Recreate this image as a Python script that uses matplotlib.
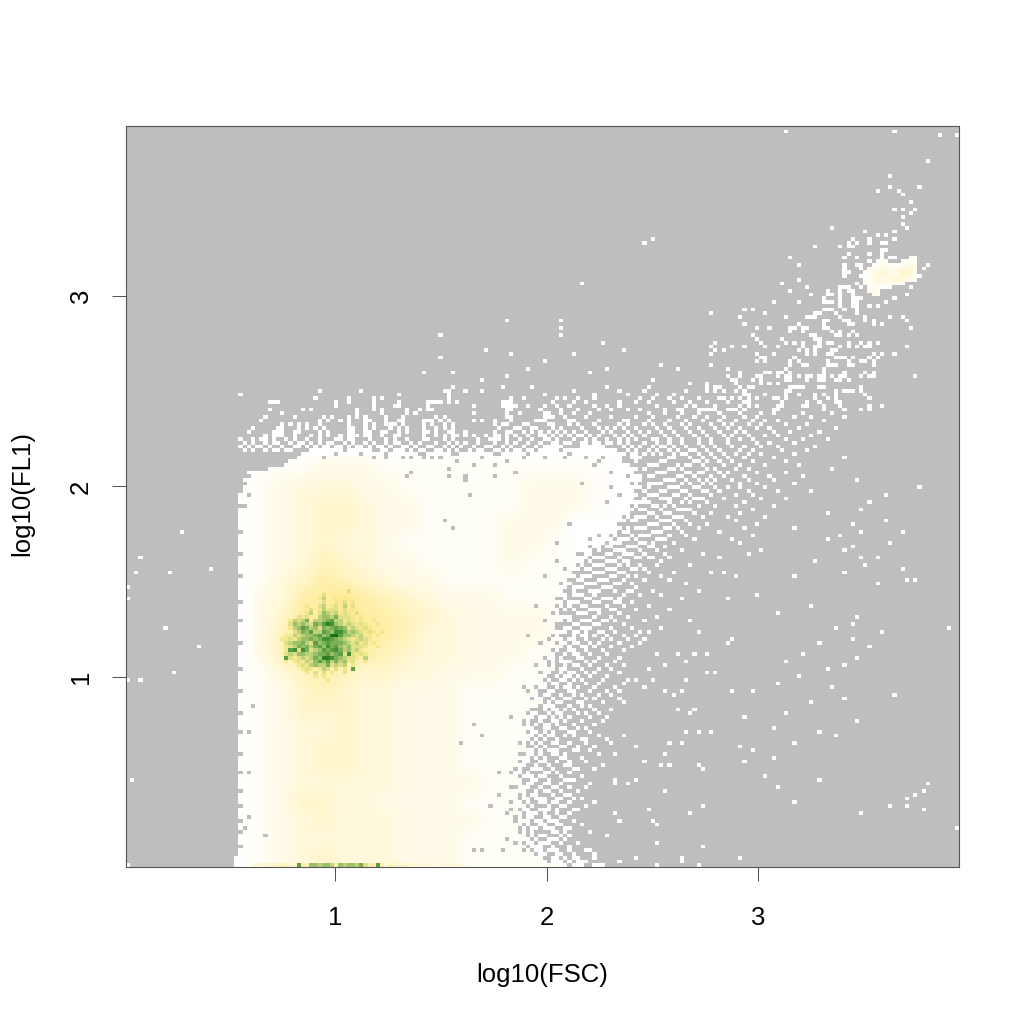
import numpy as np
import matplotlib
matplotlib.use("Agg")
import matplotlib.pyplot as plt
from matplotlib.colors import LinearSegmentedColormap, ListedColormap
from matplotlib.path import Path
from matplotlib.patches import PathPatch

plt.rcParams['font.family'] = ['Liberation Sans', 'DejaVu Sans']

x_label = "log10(FSC)"
y_label = "log10(FL1)"
x_ticks = [1, 2, 3]
y_ticks = [1, 2, 3]
x_range = (0.012, 3.95)
y_range = (0.003, 3.892)
n_bins = 200

# Broad density, 5-bin blocks, bottom row first; first block starts at bin 25.
density_blocks = [
 "0123433322211111000000", "0123333322211111000000", "0123433322221111000000",
 "0124433222211111000000", "0123333322221111000000", "0123443322211111000000",
 "0123443322211111000000", "0123343322211111000000", "0124443322211111000000",
 "0124543322211111000000", "0135654433222111000000", "0257676543322211000000",
 "0257787653322221000000", "0247787654322221000000", "0236786543222111000000",
 "0134654322111111000000", "0123543221111211000000", "0123433211111221000000",
 "0123443221111222000000", "0123443221111122210000", "0123332211111122210000",
 "0111222111111111110000", "0000111000000000000000", "0000000000000000000000",
]

solid_left = [26,26,26,27,27,28,27,27,27,28,27,27,28,27,27,27,28,27,27,27,
 28,27,27,27,27,28,27,27,27,27,28,27,27,27,27,27,28,27,27,27,
 27,28,27,27,27,27,27,28,27,27,27,27,27,28,27,27,27,27,27,27,
 28,27,27,27,27,27,28,27,27,27,27,28,27,27,27,27,27,27,28,27,
 27,27,27,27,28,27,27,27,27,27,28,27,27,27,27,27,27,28,27,27,
 27,28,28,29,28,30,29,34,38,39,41]
solid_right = [106,101,100,98,97,96,95,97,96,94,96,95,97,93,95,94,96,95,97,94,
 96,93,95,96,94,92,95,96,94,97,95,98,96,94,97,98,96,99,97,95,
 98,96,97,99,100,97,99,100,98,101,100,102,99,103,101,103,100,104,102,105,
 103,105,102,106,104,103,105,104,102,104,103,105,104,106,105,106,107,106,108,107,
 109,108,110,111,109,112,114,115,117,116,118,119,118,120,121,120,122,121,123,122,
 123,122,124,123,124,124,122,123,121,120,119]

white_cells = {
0:[0,107,108,109,112,113,114,127,137],1:[102,103,104,106,108,109,110,118,133],2:[102,103,105,107,108,112,122,133,147],
3:[99,100,103,104,107,112],4:[98,99,101,102,103,106,110,111],5:[97,98,99,102,106,138],6:[96,97,99,100,101,104,108,127],
7:[98,101,102,103,105],8:[97,98,99,100,104,106,115],9:[95,97,98,102,103,105,111],10:[97,98,100,101,102,105,106,199],
11:[96,99,100,103,104,109,127],12:[98,99,101,102,103,107,118,126],13:[94,96,97,100,101,104,105],
14:[96,97,98,100,103,106,117,135,176],15:[95,96,99,100,101,103,107,108,125,191],16:[97,98,101,104,105,110,138,183,187],
17:[96,99,100,102,103,106,112,160],18:[98,99,100,103,104,107,109,187],19:[95,97,98,102,105,106,189],
20:[97,98,100,101,104,108,129,191],21:[94,95,96,99,102,103,106,110,156],22:[96,97,100,101,104,111,117,120,192],
23:[97,98,101,105,106,107,117,122,1,166],24:[95,96,97,99,100,104,109,153],25:[93,94,96,100,101,103,106],
26:[97,98,99,102,107,108,112,138],27:[95,97,98,101,105,106,114,128,130,137],28:[95,96,99,100,103,106,110,124,148],
29:[98,99,100,104,105,109,155],30:[96,97,99,102,103,105,113,117,129],31:[99,101,102,103,107,108,111,150],
32:[97,98,100,104,105,108,112,122,147],33:[95,97,99,102,103,106,110,116,130,133,160],34:[98,99,100,103,109,110,115],
35:[99,101,102,105,107,113,119,170],36:[97,98,100,102,106,107,111,134,137,140,166],37:[100,101,104,105,108,110,155],
38:[98,100,101,103,107,112],39:[96,99,102,103,105,109,114,175],40:[99,100,102,104,106,111,115,148],
41:[97,98,101,103,104,108,110,113,135,158],42:[98,100,102,103,105,107,112,116,132,136],43:[100,101,102,106,109,111],
44:[101,103,104,108,109,114,119,164],45:[98,99,102,105,106,110,112,118,172],46:[100,101,104,107,109,113,116,131,184],
47:[101,102,106,107,111,115,118,129,133,145,150],48:[99,100,103,105,106,108,112,117,124,169],49:[102,103,106,110,113,119,156],
50:[101,104,105,107,109,114,120,122,126,134,0,3],51:[103,105,106,108,111,115,161],52:[100,101,104,106,107,110,112,118,139,141,11],
53:[104,105,109,113,116,125,168],54:[102,105,107,108,111,115,119,129,172],55:[104,105,106,110,112,117,134,158],
56:[101,102,104,108,109,113,118,175],57:[105,107,108,111,115,127,132,136,139,162],58:[103,106,107,110,114,119],
59:[106,109,110,112,116,121,17,178],60:[104,105,107,108,111,113,118,123,144,166],61:[106,107,110,114,116,120,124,145,174],
62:[103,107,109,110,112,115,119,122],63:[107,108,110,113,114,117,123,125,137,181],
64:[105,106,109,110,111,116,121,128,9,170,197],65:[107,108,112,113,119,174],66:[106,109,110,111,114,115,117,124,135],
67:[104,105,106,112,116,120,127,175],68:[103,108,109,110,113,118,156],69:[105,107,111,112,113,116,117,122,130],
70:[104,106,109,110,115,119,125,164],71:[106,107,108,112,113,117,118,121],72:[105,110,111,114,115,116,118,133,144,0],
73:[106,107,108,109,112,119,123,128,151],74:[107,111,112,113,117,120,121,126,137],75:[107,108,109,114,115,116,122,0],
76:[110,111,112,117,118,121,134,180],77:[108,109,113,114,115,119,124,130,187,189],78:[109,110,111,116,117,120,122,128,146,160],
79:[112,113,114,118,119,125,131,140,143,2,10,172],80:[110,111,115,116,117,121,122,124,20,186],81:[109,112,113,114,118,120,123,127,135,177],
82:[111,115,116,117,119,120,128,165],83:[112,113,114,118,122,123,125,126,130,142,3,176,180],84:[110,111,115,116,119,120,121,124,129,138,149],
85:[113,117,118,119,123,127,133,152,172],86:[115,116,120,121,122,125,126,129,174],87:[116,117,118,123,124,126,131,147,183],
88:[118,119,120,122,127,128,129,136,145,168],89:[117,121,123,124,125,130,134,171,150],90:[119,120,126,127,128,133,142,13,176,186],
91:[120,122,123,124,129,130,132,137,148,160],92:[119,125,126,127,131,135,139,151,174],93:[121,122,128,129,130,134,146,182],
94:[122,123,124,127,131,132,133,138,144,153],95:[120,125,126,129,130,136,140,147,168],96:[123,124,128,132,133,134,135,150,176],
97:[122,126,127,129,131,137,141,146,155],98:[123,124,125,130,133,135,139,148,178],99:[124,128,129,130,134,136,137,138,143,152,158],
100:[125,126,127,131,132,135,140,146,150,182],101:[124,128,129,133,134,138,139,142,149,156,164],102:[125,130,131,132,136,137,141,144,147,153,190],
103:[125,126,127,128,133,135,138,140,147,151,160],104:[129,130,131,134,137,139,141,145,149,155,175],105:[125,126,132,133,136,140,143,148,154,162],
106:[127,128,129,134,135,137,138,142,144,151,158],107:[124,130,131,133,139,141,146,149,169],108:[125,126,127,132,134,135,138,143,147,153,161],
109:[122,128,129,136,137,139,142,145,150,158],110:[121,122,123,130,131,135,138,141,144,148,155,172],
111:list(range(42,50))+list(range(51,56))+list(range(57,62))+list(range(63,70))+list(range(72,78))+list(range(80,88))+list(range(90,96))+list(range(97,106))+list(range(107,120))+[121,122,124,126,128,131,133,134,137,140,143,146,149,152,160],
112:[28,30,33,35,36,38,39]+list(range(44,52))+list(range(53,59))+[61,62,64,65,66,68,70,71,74,75,77,79,82,84,85,88,89,91,93,94,96,97]+list(range(99,104))+list(range(105,118))+[120,122,125,127,130,132,135,136,139,142,147,150,157,163],
113:[27,29,31,32,34,37,40,41,43,45,47,48,50,51,53,55,56,58,60,61,63,66,67,69,72,73,76,78,80,83,86,87,90,92,95,98]+list(range(100,105))+list(range(109,115))+[119,121,123,126,128,129,131,134,138,141,145,148,152,156,165],
114:[28,30,33,35,36,39,41,42,44,46,48,49,52,54,57,59,62,64,65,68,70,74,77,79,81,84,88,91,93,96,99,102,103,105,106,109,110,112,113,115,116,118,120,124,127,130,133,137,140,144,151,154,160],
115:[27,30,32,33,35,38,40,43,46,50,51,53,54,58,62,64,67,71,72,76,78,84,87,88,89,91,94,97,100,101,103,107,110,112,115,118,120,122,126,127,130,133,137,140,144,147,150,158,162,168],
116:[33,35,36,37,40,44,46,48,51,53,54,55,57,58,61,64,65,71,74,76,78,79,81,83,86,88,89,91,93,96,99,100,102,104,106,108,109,111,113,117,119,121,124,129,132,136,139,143,145,149,153,156,164],
117:[29,35,36,37,40,41,46,48,53,54,57,58,61,62,65,67,71,72,74,77,78,81,88,91,92,95,97,99,101,103,105,107,110,114,116,120,123,125,128,131,135,138,142,146,148,155,159,166],
118:[30,36,37,41,43,45,47,53,54,57,59,63,65,67,71,74,76,78,89,93,94,97,98,102,104,109,113,115,117,119,122,127,130,134,137,141,144,147,151,154,161,170],
119:[37,39,41,43,46,53,57,59,62,63,64,66,71,73,76,78,88,90,91,95,96,101,102,106,108,112,118,120,124,126,129,133,135,140,143,145,149,152,158,163],
120:[32,46,48,51,53,57,58,62,65,66,71,72,73,75,77,83,85,88,92,98,99,100,106,107,113,119,120,125,130,134,138,142,146,150,153,156,167],
121:[33,40,47,49,53,55,57,62,66,74,76,91,92,100,101,102,105,110,116,122,126,132,136,139,143,148,151,160,164,172],
122:[37,55,61,67,69,83,91,94,100,101,104,107,111,125,129,133,137,142,147,152,155,162,169],
123:[34,42,44,55,59,61,67,70,72,73,91,92,99,104,108,113,116,120,123,129,132,133,137,138,139,140,141,144,146,145,148,155,156,167,172,176,178],
124:[50,59,64,65,72,83,90,91,92,93,96,100,103,106,112,115,118,127,134,136,141,147,149,151,156,157,162,163,167,171,178,181],
125:[34,35,36,50,53,59,65,72,73,74,75,77,79,90,91,92,102,107,110,118,122,125,131,135,139,144,148,149,157,163,166,170,171],
126:[45,53,59,61,77,92,95,103,105,108,112,123,126,130,133,137,142,145,143,147,149,151,155,156,158,165,168,170,178],
127:[27,65,77,100,112,120,127,131,148,149,153,158,161,165,167,170,177],
128:[46,56,76,77,81,85,107,118,124,134,139,141,143,146,148,158,159,170,173,176,172,174],
129:[78,90,97,115,125,139,141,142,147,149,150,159,160,161,162,166,167,176],
130:[135,139,146,152,154,156],131:[85,126,145,146,150,152,158,159,163,166,167,170,171,173],
132:[91,144,147,151,152,156,158,159,161,163,164,166,167,169,171,172,176,178,179,189],
133:[71,78,111,147,153,154,156,157,159,167,172,177,179],134:[96,115,132,144,158,167],
135:[128,140,159,162,163,168,169,170,173,174,179],136:[100,151,153,159,161,168,173,176,177,179],
137:[75,152,153,160,170,171,172,174,178,180],138:[92,107,140,151,155,163,165,168,169,179,181,184],
139:[86,119,141,143,161,163,165,169,170],140:[140,145,148,153,156,162,165,166,171,173,175,177,178,187],
141:[114,141,152,158,160,162,166,168,169,173,176,178,180],142:[151,157,165,166],143:[75,104,150,164,165,170,171,173,175],
144:[159,162,169,171,174],145:[104,151,154,159,160,162,163,167,168,188],146:[148,161,167,173,174,179,181],
147:[91,104,167,168,172,173,177,179,187],148:[147,158,163,164,165,171,177,183,186],149:[140,153,165,166,170,175],
150:[148,150,167,168,169,172,175],151:[171,174,175,178,180],152:[155,161,167,168,169,171,174,175,182],
153:[167,171,174,175,176,184],154:[164,168,169,171,174,187],155:[159,168,171,173,174],156:[163,171,172,173,176],
157:[109,157,175],158:[161],159:[172,176],160:[172,173],161:[172,176,191],162:[161,172,175,176,192],
163:[178,181,188],164:[159,172,175,181,183,184],165:[173,178,181],166:[181,182],167:[165,171,173,174],
168:[124,173,175,178,181,182],169:[126,174,178,184],170:[180,182],171:[177,184],172:[169,187],173:[186],
175:[186],176:[188],177:[184,186,189],179:[188],181:[186],182:[180,185],183:[183,190],186:[183],190:[192],
197:[195,199],198:[158,184],
}

grey_holes = [(30,43),(29,36),(29,25),(29,13),(33,8),(28,10),(83,38),(85,35),(80,33),(89,25),(89,19),(87,16),(91,7),
 (83,4),(85,4),(90,4),(68,106),(67,105),(77,105),(81,105),(81,104),(88,105),(82,100),(76,93),(78,91),(29,100),(28,97),
 (59,110),(62,110),(47,110),(71,110),(73,110),(77,107),(83,108),(88,108),(91,109),(93,106),(113,109),(114,110),(119,109),
 (121,109),(109,103),(121,103),(116,102),(122,96),(119,94),(119,92),(113,89),(117,88),(103,87),(111,86),(96,62),(101,61),
 (103,57),(98,54),(101,55),(101,51),(95,48),(96,47),(99,47),(101,48),(98,42),(101,42),(92,40),(95,38),(98,37),(99,34),
 (101,36),(97,32),(99,29),(97,27),(95,23),(99,23),(97,20),(92,17),(92,15),(98,16),(95,13),(94,10),(90,4),(93,6),
 (95,4),(98,9),(96,8),(98,8),(75,110),(79,109),(85,110),(95,110),(100,110),(105,110),(110,110),(68,110),(66,110),
 (104,76),(103,72),(102,68),(105,80),(100,66),(106,73),(108,84),(111,88),(103,64),(99,60),(102,58),(100,45),(96,41),(94,30),
 (93,26),(92,21),(93,12),(94,18),(91,14),(97,12),(103,82),(100,78),(98,70),(106,92),(115,98),(118,100),(120,105),(116,106),(112,108)]

# Upper-right population: first string is bin row 164, first character is bin column 177.
tail_blocks = ["00000000000110","00011100011110","00112211112220","01122211233310","11223322344410",
 "11233332343311","11232233322110","11222211110000","01211110000100","01210000000000","00110000000000"]

# Green core: first string is bin row 75, first character is bin column 36.
core_blocks = [
 "00000000000000000000000000","00000000000000000200000000","00000000000200000000000000",
 "00000000001300100000000000","00000000000200102010000000","00000001002301203020000000",
 "00000000201312202010000000","00000001302432312102000000","00000212003443522210100000",
 "00013235033456331210100100","00024343254687432321210010","00013465342545654232121000",
 "00002354633654775343212101","00113234456459964432311010","01121344545776543212321000",
 "00234453264565554323120100","00123545356475643422210010","00167275234656753423100000",
 "00232443345564562721210000","00621232354887543221030000","00101213246463534120010000",
 "00000121343352323010000000","00000012101320201060000000","00000001020201002000000000",
 "00000000010100000000000000","00000000000010000000000000"]

# Lowest bin row: first character is bin column 30.
bottom_row = "12223334433554455555555555505505043333222221112222110"
bottom_green_cols = [41,44,45,46,47,48,49,51,52,53,54,55,56,57,60]
bottom_green_vals = [6,4,4,3,4,4,3,4,3,4,4,3,5,2,6]

density = np.array([[int(c) for c in r] for r in density_blocks], float)

dx = (x_range[1]-x_range[0])/n_bins
dy = (y_range[1]-y_range[0])/n_bins
xe = x_range[0]+dx*np.arange(n_bins+1)
ye = y_range[0]+dy*np.arange(n_bins+1)

yellow = LinearSegmentedColormap.from_list("y", ["#FFFFFF","#FFFEF6","#FFFBE8","#FFF9DC","#FFF6CC","#FFF3BC","#FFF0AC","#FFEDA0","#FFEA90","#FFE680"])
green = LinearSegmentedColormap.from_list("g", ["#F3E88E","#DDDF88","#B5CE74","#8DBA60","#6AA64C","#4C943A","#328428","#1A7418","#006400"])

fig = plt.figure(figsize=(10.24,10.24), dpi=100)
ax = fig.add_axes([126/1024, 157/1024, 833/1024, 741/1024])
ax.set_facecolor("#BEBEBE")

b = 5
im = ax.imshow(density, origin="lower", cmap=yellow, vmin=0, vmax=9, interpolation="bilinear", aspect="auto",
               extent=(xe[25], xe[25+b*density.shape[1]], ye[0], ye[b*density.shape[0]]), zorder=1)
vx, vy = [], []
for r,l in enumerate(solid_left):
    vx += [xe[l], xe[l]]; vy += [ye[r], ye[r+1]]
for r in range(len(solid_right)-1,-1,-1):
    vx += [xe[solid_right[r]], xe[solid_right[r]]]; vy += [ye[r+1], ye[r]]
clip = PathPatch(Path(np.c_[vx,vy]), transform=ax.transData, fc="none", ec="none")
ax.add_patch(clip)
im.set_clip_path(clip)

W = np.full((n_bins,n_bins), np.nan)
for r,cols in white_cells.items():
    for c in cols:
        W[r,c] = 1
for c,r in grey_holes:
    W[r,c] = 0
ax.pcolormesh(xe, ye, np.ma.masked_invalid(W), cmap=ListedColormap(["#BEBEBE","#FFFFFF"]), vmin=0, vmax=1, zorder=2, antialiased=False, linewidth=0)

Y = np.full((n_bins,n_bins), np.nan)
for i,s in enumerate(tail_blocks):
    for j,ch in enumerate(s):
        if ch!="0": Y[164-i,177+j] = int(ch)
for j,ch in enumerate(bottom_row):
    if ch!="0": Y[0,30+j] = int(ch)+1
ax.pcolormesh(xe, ye, np.ma.masked_invalid(Y), cmap=yellow, vmin=0, vmax=9, zorder=3, antialiased=False, linewidth=0)

G = np.full((n_bins,n_bins), np.nan)
for i,s in enumerate(core_blocks):
    for j,ch in enumerate(s):
        if ch!="0": G[75-i,36+j] = int(ch)
for c,v in zip(bottom_green_cols, bottom_green_vals):
    G[0,c] = v
ax.pcolormesh(xe, ye, np.ma.masked_invalid(G), cmap=green, vmin=1, vmax=10, zorder=4, antialiased=False, linewidth=0)

ax.set_xlim(*x_range); ax.set_ylim(*y_range)
ax.set_xticks(x_ticks); ax.set_yticks(y_ticks)
ax.set_xticklabels([str(t) for t in x_ticks]); ax.set_yticklabels([str(t) for t in y_ticks], rotation=90, va="center")
ax.tick_params(axis="x", length=10, width=0.75, color="#555555", labelsize=18.5, pad=18, labelcolor="black")
ax.tick_params(axis="y", length=10, width=0.75, color="#555555", labelsize=18.5, pad=14, labelcolor="black")
for s in ax.spines.values():
    s.set_linewidth(0.8); s.set_color("#555555"); s.set_zorder(6)
fig.text(542/1024, 1-975/1024, x_label, fontsize=18.5, ha="center", va="center")
fig.text(22/1024, 1-493/1024, y_label, fontsize=18.5, ha="center", va="center", rotation=90)
fig.savefig("out.png", dpi=100)
